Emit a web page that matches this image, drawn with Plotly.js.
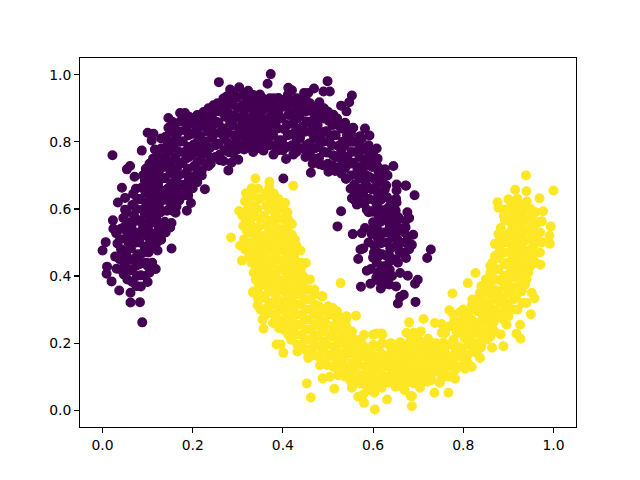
<!DOCTYPE html>
<html>
<head>
<meta charset="utf-8">
<title>Two moons</title>
<script src="https://cdn.plot.ly/plotly-3.0.1.min.js"></script>
<style>
html,body{margin:0;padding:0;background:#fff;}
#chart{width:640px;height:480px;}
</style>
</head>
<body>
<div id="chart"></div>
<script>
// values, [x, y]

// upper moon, outer edge and strays
const upperEdge = [
[.258,.978],[.022,.76],[0,.476],[.007,.501],[.023,.566],[.024,.541],[.034,.619],[.043,.663],[.05,.633],[.01,.428],
[.009,.407],[.02,.384],[.037,.357],[.062,.35],[.062,.321],[.083,.322],[.088,.262],[.085,.369],[.1,.382],[.118,.421],
[.098,.439],[.153,.482],[.122,.476],[.13,.508],[.153,.558],[.187,.595],[.162,.589],[.196,.618],[.227,.659],[.164,.607],
[.046,.573],[.054,.718],[.061,.728],[.071,.696],[.087,.774],[.1,.827],[.113,.824],[.109,.804],[.146,.871],[.172,.886],
[.183,.886],[.205,.873],[.224,.889],[.246,.909],[.268,.929],[.283,.956],[.303,.963],[.323,.952],[.279,.715],[.268,.743],
[.286,.738],[.301,.747],[.28,.769],[.314,.777],[.235,.728],[.209,.696],[.218,.767],[.146,.842],[.116,.777],[.373,1.002],
[.366,.973],[.412,.961],[.42,.954],[.447,.946],[.456,.946],[.469,.959],[.499,.981],[.49,.95],[.504,.95],[.553,.938],
[.547,.918],[.529,.908],[.541,.891],[.582,.84],[.592,.819],[.556,.842],[.481,.918],[.442,.921],[.39,.931],[.349,.941],
[.512,.881],[.538,.857],[.571,.817],[.608,.78],[.597,.752],[.645,.728],[.626,.718],[.609,.728],[.652,.673],[.672,.67],
[.626,.658],[.379,.762],[.407,.749],[.401,.691],[.462,.708],[.501,.711],[.466,.735],[.423,.762],[.357,.774],[.334,.77],
[.312,.78],[.453,.772],[.482,.733],[.516,.713],[.529,.593],[.521,.548],[.555,.525],[.567,.451],[.578,.482],[.586,.416],
[.595,.421],[.573,.368],[.594,.377],[.617,.363],[.651,.369],[.693,.377],[.699,.389],[.677,.401],[.66,.409],[.66,.338],
[.668,.344],[.655,.318],[.694,.323],[.72,.454],[.728,.479],[.689,.523],[.673,.454],[.676,.59],[.68,.573],[.692,.641],
[.673,.669],[.652,.655],[.615,.639],[.652,.619],[.553,.632],[.564,.613],[.586,.598],[.582,.543],[.575,.528],[.572,.479],
[.612,.459],[.619,.429],[.619,.41],[.626,.389],[.637,.419],[.637,.444],[.663,.469],[.686,.493]
];

// upper moon, inside of the band
const upperFill = [
[.031,.422],[.028,.458],[.033,.497],[.03,.528],[.047,.405],[.049,.44],[.045,.476],[.051,.512],[.047,.545],[.05,.598],
[.066,.382],[.064,.417],[.068,.449],[.063,.483],[.069,.515],[.064,.548],[.07,.58],[.066,.612],[.068,.645],[.085,.402],
[.083,.436],[.088,.468],[.082,.5],[.087,.534],[.084,.566],[.089,.598],[.083,.63],[.087,.664],[.09,.7],[.104,.41],
[.102,.47],[.106,.505],[.101,.54],[.107,.572],[.102,.605],[.106,.636],[.101,.668],[.105,.7],[.104,.735],[.12,.51],
[.124,.54],[.119,.575],[.125,.608],[.12,.64],[.123,.672],[.119,.705],[.125,.738],[.121,.758],[.14,.53],[.138,.562],
[.143,.595],[.139,.628],[.144,.66],[.138,.692],[.143,.725],[.139,.758],[.144,.79],[.14,.815],[.16,.625],[.158,.655],
[.163,.688],[.157,.72],[.162,.752],[.158,.785],[.163,.815],[.159,.848],[.18,.64],[.178,.672],[.183,.705],[.177,.738],
[.182,.77],[.178,.802],[.183,.835],[.179,.862],[.2,.662],[.198,.695],[.203,.728],[.197,.76],[.202,.792],[.198,.824],
[.203,.852],[.22,.715],[.218,.745],[.223,.785],[.217,.815],[.222,.848],[.219,.87],[.24,.752],[.238,.782],[.243,.812],
[.237,.845],[.242,.875],[.26,.762],[.258,.795],[.263,.825],[.257,.858],[.262,.89],[.259,.91],[.28,.795],[.278,.828],
[.283,.858],[.277,.89],[.282,.92],[.3,.778],[.298,.808],[.303,.84],[.297,.872],[.302,.902],[.298,.932],[.32,.8],
[.318,.832],[.323,.862],[.317,.895],[.322,.925],[.34,.795],[.338,.828],[.343,.86],[.337,.892],[.342,.92],[.36,.798],
[.358,.83],[.363,.862],[.357,.895],[.362,.92],[.38,.79],[.378,.822],[.383,.855],[.377,.888],[.382,.915],[.4,.775],
[.398,.805],[.403,.838],[.397,.87],[.402,.905],[.42,.79],[.418,.822],[.423,.855],[.417,.888],[.422,.922],[.44,.78],
[.438,.812],[.443,.845],[.437,.878],[.442,.905],[.46,.762],[.458,.795],[.463,.828],[.457,.86],[.462,.892],[.48,.752],
[.478,.785],[.483,.818],[.477,.85],[.482,.885],[.5,.735],[.498,.768],[.503,.8],[.497,.832],[.502,.862],[.52,.722],
[.518,.755],[.523,.788],[.517,.82],[.522,.85],[.54,.69],[.538,.722],[.543,.755],[.537,.788],[.542,.82],[.56,.642],
[.558,.672],[.563,.705],[.557,.738],[.562,.77],[.558,.8],[.58,.615],[.578,.648],[.583,.68],[.577,.712],[.582,.745],
[.578,.778],[.6,.56],[.598,.592],[.603,.625],[.597,.658],[.602,.69],[.598,.725],[.6,.455],[.603,.49],[.597,.525],
[.62,.465],[.618,.498],[.623,.53],[.617,.562],[.622,.595],[.618,.628],[.621,.69],[.64,.45],[.638,.482],[.643,.515],
[.637,.548],[.642,.58],[.638,.612],[.655,.44],[.658,.475],[.654,.508],[.66,.54],[.656,.575],[.68,.48],[.677,.515],
[.672,.545],[.63,.4],[.628,.43],[.624,.375],[.608,.44],[.612,.385]
];

// upper moon, points between the ones above
const upperDense = [
[.04,.42],[.038,.45],[.041,.48],[.039,.51],[.04,.54],[.055,.39],[.056,.42],[.054,.46],[.057,.5],[.055,.53],[.056,.56],[.054,.59],
[.075,.37],[.076,.4],[.074,.43],[.077,.465],[.075,.5],[.074,.53],[.076,.565],[.075,.6],[.077,.63],[.074,.66],
[.095,.4],[.096,.44],[.094,.485],[.096,.52],[.095,.555],[.094,.585],[.096,.62],[.095,.65],[.094,.685],[.096,.72],
[.11,.44],[.112,.49],[.11,.525],[.113,.56],[.111,.59],[.112,.62],[.11,.655],[.113,.685],[.111,.72],[.112,.75],
[.13,.525],[.131,.555],[.129,.59],[.132,.625],[.13,.655],[.131,.69],[.129,.72],[.132,.75],[.13,.78],
[.15,.545],[.151,.61],[.149,.64],[.152,.675],[.15,.705],[.151,.74],[.149,.77],[.152,.8],[.15,.83],
[.17,.64],[.171,.67],[.169,.7],[.172,.735],[.17,.77],[.171,.8],[.169,.83],[.172,.86],
[.19,.655],[.191,.685],[.189,.72],[.192,.755],[.19,.785],[.191,.82],[.189,.85],[.192,.875],
[.21,.71],[.211,.74],[.209,.77],[.212,.805],[.21,.835],[.211,.865],
[.23,.735],[.231,.765],[.229,.8],[.232,.83],[.23,.86],[.231,.885],
[.25,.755],[.251,.79],[.249,.825],[.252,.86],[.25,.89],
[.27,.775],[.271,.81],[.269,.84],[.272,.875],[.27,.905],
[.29,.79],[.291,.82],[.289,.85],[.292,.88],[.29,.91],[.291,.94],
[.31,.79],[.311,.82],[.309,.85],[.312,.88],[.31,.91],[.311,.94],
[.33,.785],[.331,.815],[.329,.845],[.332,.875],[.33,.905],[.331,.935],
[.35,.79],[.351,.815],[.349,.845],[.352,.875],[.35,.905],[.351,.93],
[.37,.79],[.371,.815],[.369,.845],[.372,.875],[.37,.905],[.371,.93],
[.39,.785],[.391,.805],[.389,.84],[.392,.87],[.39,.9],
[.41,.785],[.411,.82],[.409,.85],[.412,.88],[.41,.91],[.411,.94],
[.43,.785],[.431,.805],[.429,.835],[.432,.87],[.43,.9],[.431,.93],
[.45,.755],[.451,.79],[.449,.83],[.452,.86],[.45,.89],[.451,.925],
[.47,.75],[.471,.78],[.469,.81],[.472,.84],[.47,.87],[.471,.9],
[.49,.73],[.491,.77],[.489,.8],[.492,.83],[.49,.87],[.491,.9],
[.51,.73],[.511,.76],[.509,.79],[.512,.82],[.51,.85],
[.53,.705],[.531,.735],[.529,.77],[.532,.8],[.53,.84],
[.55,.66],[.551,.7],[.549,.735],[.552,.77],[.55,.8],[.551,.825],
[.57,.635],[.571,.66],[.569,.69],[.572,.725],[.57,.755],[.571,.79],
[.59,.59],[.591,.63],[.589,.665],[.592,.695],[.59,.73],[.591,.76],
[.61,.47],[.611,.51],[.609,.54],[.612,.58],[.61,.61],[.611,.645],[.609,.675],[.612,.71],[.61,.75],
[.63,.46],[.631,.5],[.629,.53],[.632,.565],[.63,.6],[.631,.635],[.629,.67],[.632,.7],
[.65,.45],[.651,.49],[.649,.525],[.652,.56],[.65,.595],[.651,.63],
[.67,.47],[.671,.5],[.669,.53],[.672,.565],
[.61,.41],[.628,.415],[.607,.395],[.642,.4],[.636,.375],[.602,.47],[.59,.5]
];

// upper moon, last gaps and the rim of the band
const upperGaps = [
[.13,.81],[.155,.86],[.21,.88],[.235,.9],[.255,.915],[.275,.935],[.315,.945],[.335,.94],[.355,.93],[.38,.93],
[.4,.925],[.43,.925],[.46,.915],[.5,.89],[.52,.87],[.55,.84],[.575,.81],[.59,.79],[.6,.77],[.1,.43],
[.12,.5],[.14,.545],[.155,.595],[.17,.625],[.19,.64],[.21,.68],[.22,.7],[.24,.735],[.26,.745],[.29,.765],
[.32,.785],[.35,.78],[.39,.775],[.43,.77],[.47,.745],[.51,.725],[.54,.69],[.56,.625],[.6,.54],[.145,.74],
[.165,.72],[.185,.75],[.205,.78],[.245,.85],[.265,.84],[.285,.87],[.31,.865],[.345,.875],[.39,.885],[.425,.87],
[.445,.83],[.465,.845],[.485,.8],[.505,.815],[.525,.755],[.545,.74],[.565,.72],[.585,.7],[.605,.66],[.605,.6],
[.625,.58],[.645,.54],[.615,.515],[.635,.465],[.66,.5],[.055,.445],[.08,.45],[.1,.49],[.115,.6],[.135,.64],
[.155,.63],[.165,.66],[.185,.66],[.075,.515],[.09,.55],[.1,.62],[.125,.7]
];

// lower moon, outer edge and strays
const lowerEdge = [
[.939,.7],[1.0,.655],[.94,.653],[.915,.657],[.969,.632],[.876,.62],[.878,.604],[.9,.629],[.889,.598],[.941,.622],
[.977,.593],[.974,.563],[.994,.548],[.991,.52],[.992,.496],[.975,.501],[.892,.566],[.883,.543],[.878,.525],[.87,.496],
[.885,.498],[.864,.439],[.88,.454],[.827,.409],[.81,.379],[.971,.434],[.961,.469],[.944,.411],[.87,.419],[.852,.369],
[.863,.389],[.837,.35],[.952,.35],[.937,.374],[.926,.399],[.776,.348],[.769,.298],[.778,.285],[.793,.293],[.819,.313],
[.712,.272],[.737,.26],[.752,.257],[.752,.231],[.706,.235],[.689,.231],[.722,.213],[.958,.334],[.95,.286],[.926,.255],
[.918,.228],[.927,.213],[.889,.191],[.883,.226],[.896,.255],[.864,.186],[.853,.211],[.837,.156],[.839,.186],[.819,.129],
[.804,.124],[.782,.094],[.767,.052],[.736,.052],[.748,.082],[.722,.097],[.704,.067],[.686,.042],[.686,.012],[.866,.26],
[.785,.235],[.756,.201],[.726,.191],[.83,.26],[.453,.08],[.462,.038],[.514,.064],[.488,.095],[.504,.1],[.523,.104],
[.482,.134],[.432,.175],[.456,.156],[.401,.171],[.386,.196],[.395,.196],[.357,.243],[.344,.313],[.36,.282],[.334,.35],
[.562,.282],[.541,.28],[.527,.278],[.51,.305],[.488,.34],[.553,.235],[.573,.211],[.608,.229],[.619,.229],[.68,.262],
[.674,.231],[.691,.231],[.66,.203],[.682,.206],[.634,.196],[.553,.067],[.567,.04],[.58,.022],[.604,.002],[.631,.032],
[.603,.052],[.619,.067],[.684,.042],[.656,.072],[.578,.047],[.634,.082],[.339,.691],[.37,.681],[.423,.669],[.331,.662],
[.318,.647],[.364,.649],[.316,.622],[.303,.594],[.405,.618],[.392,.61],[.408,.583],[.412,.568],[.318,.563],[.285,.515],
[.314,.51],[.305,.491],[.316,.479],[.309,.446],[.42,.523],[.427,.508],[.439,.476],[.42,.479],[.396,.528],[.334,.528],
[.34,.424],[.451,.439],[.429,.429],[.445,.399],[.34,.389],[.334,.354],[.349,.345],[.454,.36],[.445,.379],[.486,.34],
[.528,.379],[.43,.409]
];

// lower moon, inside of the band
const lowerFill = [
[.33,.6],[.328,.57],[.325,.638],[.345,.66],[.348,.63],[.343,.6],[.349,.57],[.345,.545],[.35,.51],[.348,.48],
[.352,.45],[.356,.42],[.352,.385],[.36,.64],[.363,.61],[.358,.58],[.364,.55],[.359,.52],[.363,.49],[.358,.46],
[.364,.43],[.36,.4],[.365,.37],[.36,.335],[.364,.305],[.38,.645],[.378,.615],[.383,.585],[.377,.555],[.382,.525],
[.378,.495],[.383,.465],[.377,.435],[.382,.405],[.378,.375],[.383,.345],[.377,.315],[.382,.285],[.378,.26],[.4,.6],
[.398,.57],[.403,.54],[.397,.505],[.402,.475],[.398,.445],[.403,.415],[.397,.385],[.402,.355],[.398,.325],[.403,.295],
[.397,.265],[.402,.24],[.42,.555],[.418,.45],[.423,.42],[.417,.39],[.422,.36],[.418,.33],[.423,.3],[.417,.27],
[.422,.24],[.418,.21],[.44,.345],[.438,.315],[.443,.285],[.437,.255],[.442,.225],[.438,.195],[.46,.39],[.458,.33],
[.463,.3],[.457,.27],[.462,.24],[.458,.21],[.463,.18],[.48,.31],[.478,.28],[.483,.25],[.477,.22],[.482,.19],
[.478,.16],[.5,.285],[.498,.255],[.503,.225],[.497,.195],[.502,.165],[.498,.135],[.52,.27],[.518,.24],[.523,.21],
[.517,.18],[.522,.15],[.518,.125],[.54,.25],[.538,.22],[.543,.19],[.537,.16],[.542,.13],[.538,.1],[.56,.21],
[.558,.18],[.563,.15],[.557,.12],[.562,.09],[.58,.19],[.578,.16],[.583,.13],[.577,.1],[.582,.075],[.6,.195],
[.598,.165],[.603,.135],[.597,.105],[.602,.08],[.62,.2],[.618,.17],[.623,.14],[.617,.11],[.622,.09],[.64,.175],
[.638,.145],[.643,.115],[.637,.095],[.66,.17],[.658,.14],[.663,.11],[.657,.085],[.68,.175],[.678,.145],[.683,.115],
[.677,.09],[.7,.185],[.698,.155],[.703,.125],[.697,.095],[.72,.185],[.718,.155],[.723,.125],[.74,.2],[.738,.17],
[.743,.14],[.737,.115],[.76,.23],[.758,.175],[.763,.145],[.757,.115],[.78,.265],[.778,.21],[.783,.175],[.777,.145],
[.782,.12],[.8,.275],[.798,.245],[.803,.215],[.797,.185],[.802,.155],[.82,.3],[.818,.27],[.823,.24],[.817,.21],
[.822,.18],[.84,.34],[.838,.31],[.843,.28],[.837,.25],[.842,.22],[.86,.41],[.858,.375],[.863,.345],[.857,.315],
[.862,.285],[.858,.24],[.88,.49],[.878,.42],[.883,.385],[.877,.355],[.882,.32],[.878,.285],[.9,.6],[.898,.565],
[.903,.53],[.897,.5],[.902,.47],[.898,.44],[.903,.41],[.897,.38],[.902,.35],[.898,.315],[.92,.595],[.918,.56],
[.923,.53],[.917,.5],[.922,.47],[.918,.44],[.923,.37],[.917,.34],[.94,.6],[.938,.565],[.943,.535],[.937,.505],
[.942,.475],[.938,.44],[.96,.59],[.958,.555],[.963,.525],[.957,.495]
];

// lower moon, points between the ones above
const lowerDense = [
[.335,.58],[.336,.61],[.334,.64],[.325,.53],[.326,.59],[.324,.62],[.345,.52],[.346,.49],[.344,.46],[.346,.44],[.345,.41],[.347,.37],
[.37,.665],[.371,.63],[.369,.6],[.372,.565],[.37,.535],[.371,.505],[.369,.475],[.372,.445],[.37,.415],[.371,.385],[.369,.355],[.372,.32],[.37,.29],
[.39,.63],[.391,.6],[.389,.57],[.392,.54],[.39,.51],[.391,.48],[.389,.45],[.392,.42],[.39,.39],[.391,.36],[.389,.33],[.392,.3],[.39,.27],[.391,.245],
[.41,.59],[.411,.555],[.409,.49],[.412,.46],[.41,.43],[.411,.4],[.409,.37],[.412,.34],[.41,.31],[.411,.28],[.409,.25],[.412,.225],
[.41,.525],[.405,.52],[.43,.395],[.431,.375],[.429,.345],[.432,.315],[.43,.285],[.431,.255],[.429,.225],[.432,.195],
[.45,.33],[.451,.3],[.449,.27],[.452,.24],[.45,.21],[.451,.18],
[.47,.345],[.471,.315],[.469,.285],[.472,.255],[.47,.225],[.471,.195],[.469,.165],
[.49,.3],[.491,.265],[.489,.235],[.492,.205],[.49,.175],[.491,.145],
[.51,.285],[.511,.25],[.509,.22],[.512,.19],[.51,.16],[.511,.13],
[.53,.26],[.531,.23],[.529,.2],[.532,.17],[.53,.14],[.531,.11],
[.55,.225],[.551,.2],[.549,.17],[.552,.14],[.55,.11],[.551,.085],
[.57,.2],[.571,.17],[.569,.135],[.572,.105],[.57,.08],
[.59,.18],[.591,.15],[.589,.12],[.592,.09],[.59,.06],
[.61,.19],[.611,.155],[.609,.125],[.612,.095],[.61,.07],
[.63,.16],[.631,.13],[.629,.1],[.65,.185],[.651,.155],[.649,.125],[.652,.095],
[.67,.19],[.671,.16],[.669,.13],[.672,.1],[.67,.075],
[.69,.19],[.691,.16],[.689,.13],[.692,.105],[.69,.08],
[.71,.195],[.711,.17],[.709,.14],[.712,.11],[.71,.085],
[.73,.2],[.731,.175],[.729,.15],[.732,.12],[.73,.09],
[.75,.185],[.751,.155],[.749,.13],[.752,.1],
[.77,.25],[.771,.195],[.769,.16],[.772,.13],[.77,.1],
[.79,.26],[.791,.23],[.789,.19],[.792,.16],[.79,.13],
[.81,.29],[.811,.26],[.809,.23],[.812,.195],[.81,.165],[.811,.14],
[.83,.33],[.831,.295],[.829,.23],[.832,.2],[.83,.17],
[.85,.39],[.851,.355],[.849,.325],[.852,.295],[.85,.265],[.851,.235],
[.87,.46],[.871,.39],[.869,.36],[.872,.33],[.87,.3],[.871,.27],[.869,.235],
[.89,.58],[.891,.52],[.889,.47],[.892,.435],[.89,.4],[.891,.365],[.889,.335],[.892,.3],[.89,.27],
[.91,.61],[.911,.58],[.909,.55],[.912,.515],[.91,.485],[.911,.455],[.909,.425],[.912,.395],[.91,.365],[.911,.33],[.909,.3],
[.93,.61],[.931,.58],[.929,.545],[.932,.515],[.93,.485],[.931,.455],[.929,.425],[.932,.39],[.93,.355],[.931,.32],
[.95,.6],[.951,.575],[.949,.54],[.952,.51],[.95,.48],[.951,.45],[.949,.43],
[.965,.56],[.966,.53],[.964,.5]
];

// lower moon, last gaps and the rim of the band
const lowerGaps = [
[.31,.58],[.322,.6],[.312,.55],[.32,.535],[.33,.55],[.33,.5],[.325,.49],[.325,.46],[.335,.47],[.33,.44],
[.335,.41],[.35,.3],[.345,.33],[.355,.27],[.415,.5],[.415,.525],[.43,.49],[.41,.545],[.425,.46],[.435,.44],
[.44,.42],[.44,.44],[.43,.37],[.44,.37],[.46,.36],[.47,.36],[.5,.31],[.52,.295],[.54,.27],[.58,.225],
[.6,.225],[.62,.225],[.64,.2],[.7,.21],[.72,.2],[.56,.09],[.6,.065],[.65,.07],[.67,.06],[.72,.085],
[.76,.1],[.8,.13],[.84,.19],[.86,.22],[.9,.28],[.92,.3],[.94,.32],[.8,.3],[.82,.33],[.84,.37],
[.86,.43],[.88,.47],[.88,.52],[.94,.39],[.96,.44],[.96,.53],[.97,.53],[.97,.47],[.92,.41],[.92,.63]
];

const tickValues = [0, 0.2, 0.4, 0.6, 0.8, 1];
const tickLabels = ["0.0", "0.2", "0.4", "0.6", "0.8", "1.0"];

const upperMoon = upperEdge.concat(upperFill, upperDense, upperGaps);
const lowerMoon = lowerEdge.concat(lowerFill, lowerDense, lowerGaps);

function moonTrace(points, colour){
    return {
        x: points.map(p => p[0]),
        y: points.map(p => p[1]),
        type: "scatter",
        mode: "markers",
        hoverinfo: "skip",
        marker: {size: 8.6, color: colour, line: {width: 1.4, color: colour}}
    };
}

function axis(range){
    return {
        range: range,
        tickmode: "array",
        tickvals: tickValues,
        ticktext: tickLabels,
        ticks: "outside",
        ticklen: 4.9,
        tickwidth: 1.1,
        tickcolor: "#000",
        showline: true,
        linecolor: "#000",
        linewidth: 1.1,
        mirror: true,
        showgrid: false,
        zeroline: false
    };
}

Plotly.newPlot(
    "chart",
    [moonTrace(upperMoon, "#440154"), moonTrace(lowerMoon, "#fde725")],
    {
        width: 640,
        height: 480,
        showlegend: false,
        paper_bgcolor: "#fff",
        plot_bgcolor: "#fff",
        font: {family: "DejaVu Sans", size: 13.9, color: "#000"},
        margin: {l: 80, r: 64, t: 58, b: 53, pad: 0},
        xaxis: axis([-0.05, 1.05]),
        yaxis: axis([-0.05, 1.05])
    },
    {staticPlot: true}
);
</script>
</body>
</html>
